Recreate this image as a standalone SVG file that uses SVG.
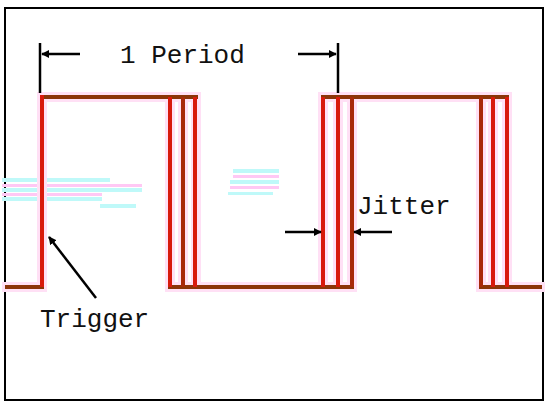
<svg xmlns="http://www.w3.org/2000/svg" width="550" height="410" viewBox="0 0 550 410">
<defs>
<marker id="ah" viewBox="0 0 10 10" refX="9" refY="5" markerWidth="3.2" markerHeight="3.2" orient="auto" markerUnits="strokeWidth">
<path d="M0,0 L10,5 L0,10 z" fill="#000"/>
</marker>
</defs>
<style>
.halo{fill:none;stroke:#ffe0f5;stroke-width:10;stroke-linecap:square}
.hz{fill:none;stroke:#8b3508;stroke-width:4;stroke-linecap:square}
.vr{fill:none;stroke:#d81a0c;stroke-width:4}
.vb{fill:none;stroke:#a82a0a;stroke-width:4}
.ar{fill:none;stroke:#000;stroke-width:2.5;marker-end:url(#ah)}
.tick{stroke:#000;stroke-width:2.5}
.lbl{font-family:"Liberation Mono","Courier New",monospace;font-size:26px;fill:#111}
.art1{fill:#bff9f9}
.art2{fill:#ffc8f4}
</style>
<rect x="0" y="0" width="550" height="410" fill="#fff"/>
<rect id="frame" x="5" y="8" width="538" height="392" fill="none" stroke="#000" stroke-width="2"/>
<g id="artifacts">
<rect class="art1" x="2" y="178" width="108" height="4"/>
<rect class="art2" x="2" y="184" width="140" height="3"/>
<rect class="art1" x="2" y="188" width="140" height="4"/>
<rect class="art2" x="2" y="193" width="100" height="3"/>
<rect class="art1" x="2" y="197" width="100" height="4"/>
<rect class="art1" x="100" y="204" width="36" height="4"/>
<rect class="art1" x="233" y="169" width="46" height="4"/>
<rect class="art2" x="233" y="175" width="46" height="3"/>
<rect class="art1" x="230" y="180" width="49" height="4"/>
<rect class="art2" x="230" y="186" width="49" height="3"/>
<rect class="art1" x="228" y="192" width="45" height="3"/>
</g>
<g id="waveform">
<path class="halo" d="M7,287 H42 V97 H196 V287 M170,97 V287 M183,97 V287 M170,287 H352 V97 M323,287 V97 M338,287 V97 M323,97 H507 V287 M481,97 V287 M493,97 V287 M481,287 H540"/>
<path class="hz" d="M7,287 H42 M42,97 H196 M170,287 H352 M323,97 H507 M481,287 H540"/>
<path class="vr" d="M42,287 V95 M170,97 V287 M195,97 V287 M323,97 V287 M338,97 V287 M493,97 V287 M507,97 V287"/>
<path class="vb" d="M183,97 V287 M352,97 V287 M481,97 V287"/>
</g>
<g id="connectors">
<line class="tick" x1="40" y1="43" x2="40" y2="93"/>
<line class="tick" x1="338" y1="43" x2="338" y2="93"/>
<line class="ar" x1="80" y1="54" x2="42" y2="54"/>
<line class="ar" x1="298" y1="54" x2="336" y2="54"/>
<line class="ar" x1="285" y1="232" x2="321" y2="232"/>
<line class="ar" x1="392" y1="232" x2="354" y2="232"/>
<line class="ar" x1="96" y1="298" x2="49" y2="237"/>
</g>
<g id="label-period"><text class="lbl" x="120" y="63">1 Period</text></g>
<g id="label-jitter"><text class="lbl" x="357" y="214">Jitter</text></g>
<g id="label-trigger"><text class="lbl" x="40" y="327">Trigger</text></g>
</svg>
